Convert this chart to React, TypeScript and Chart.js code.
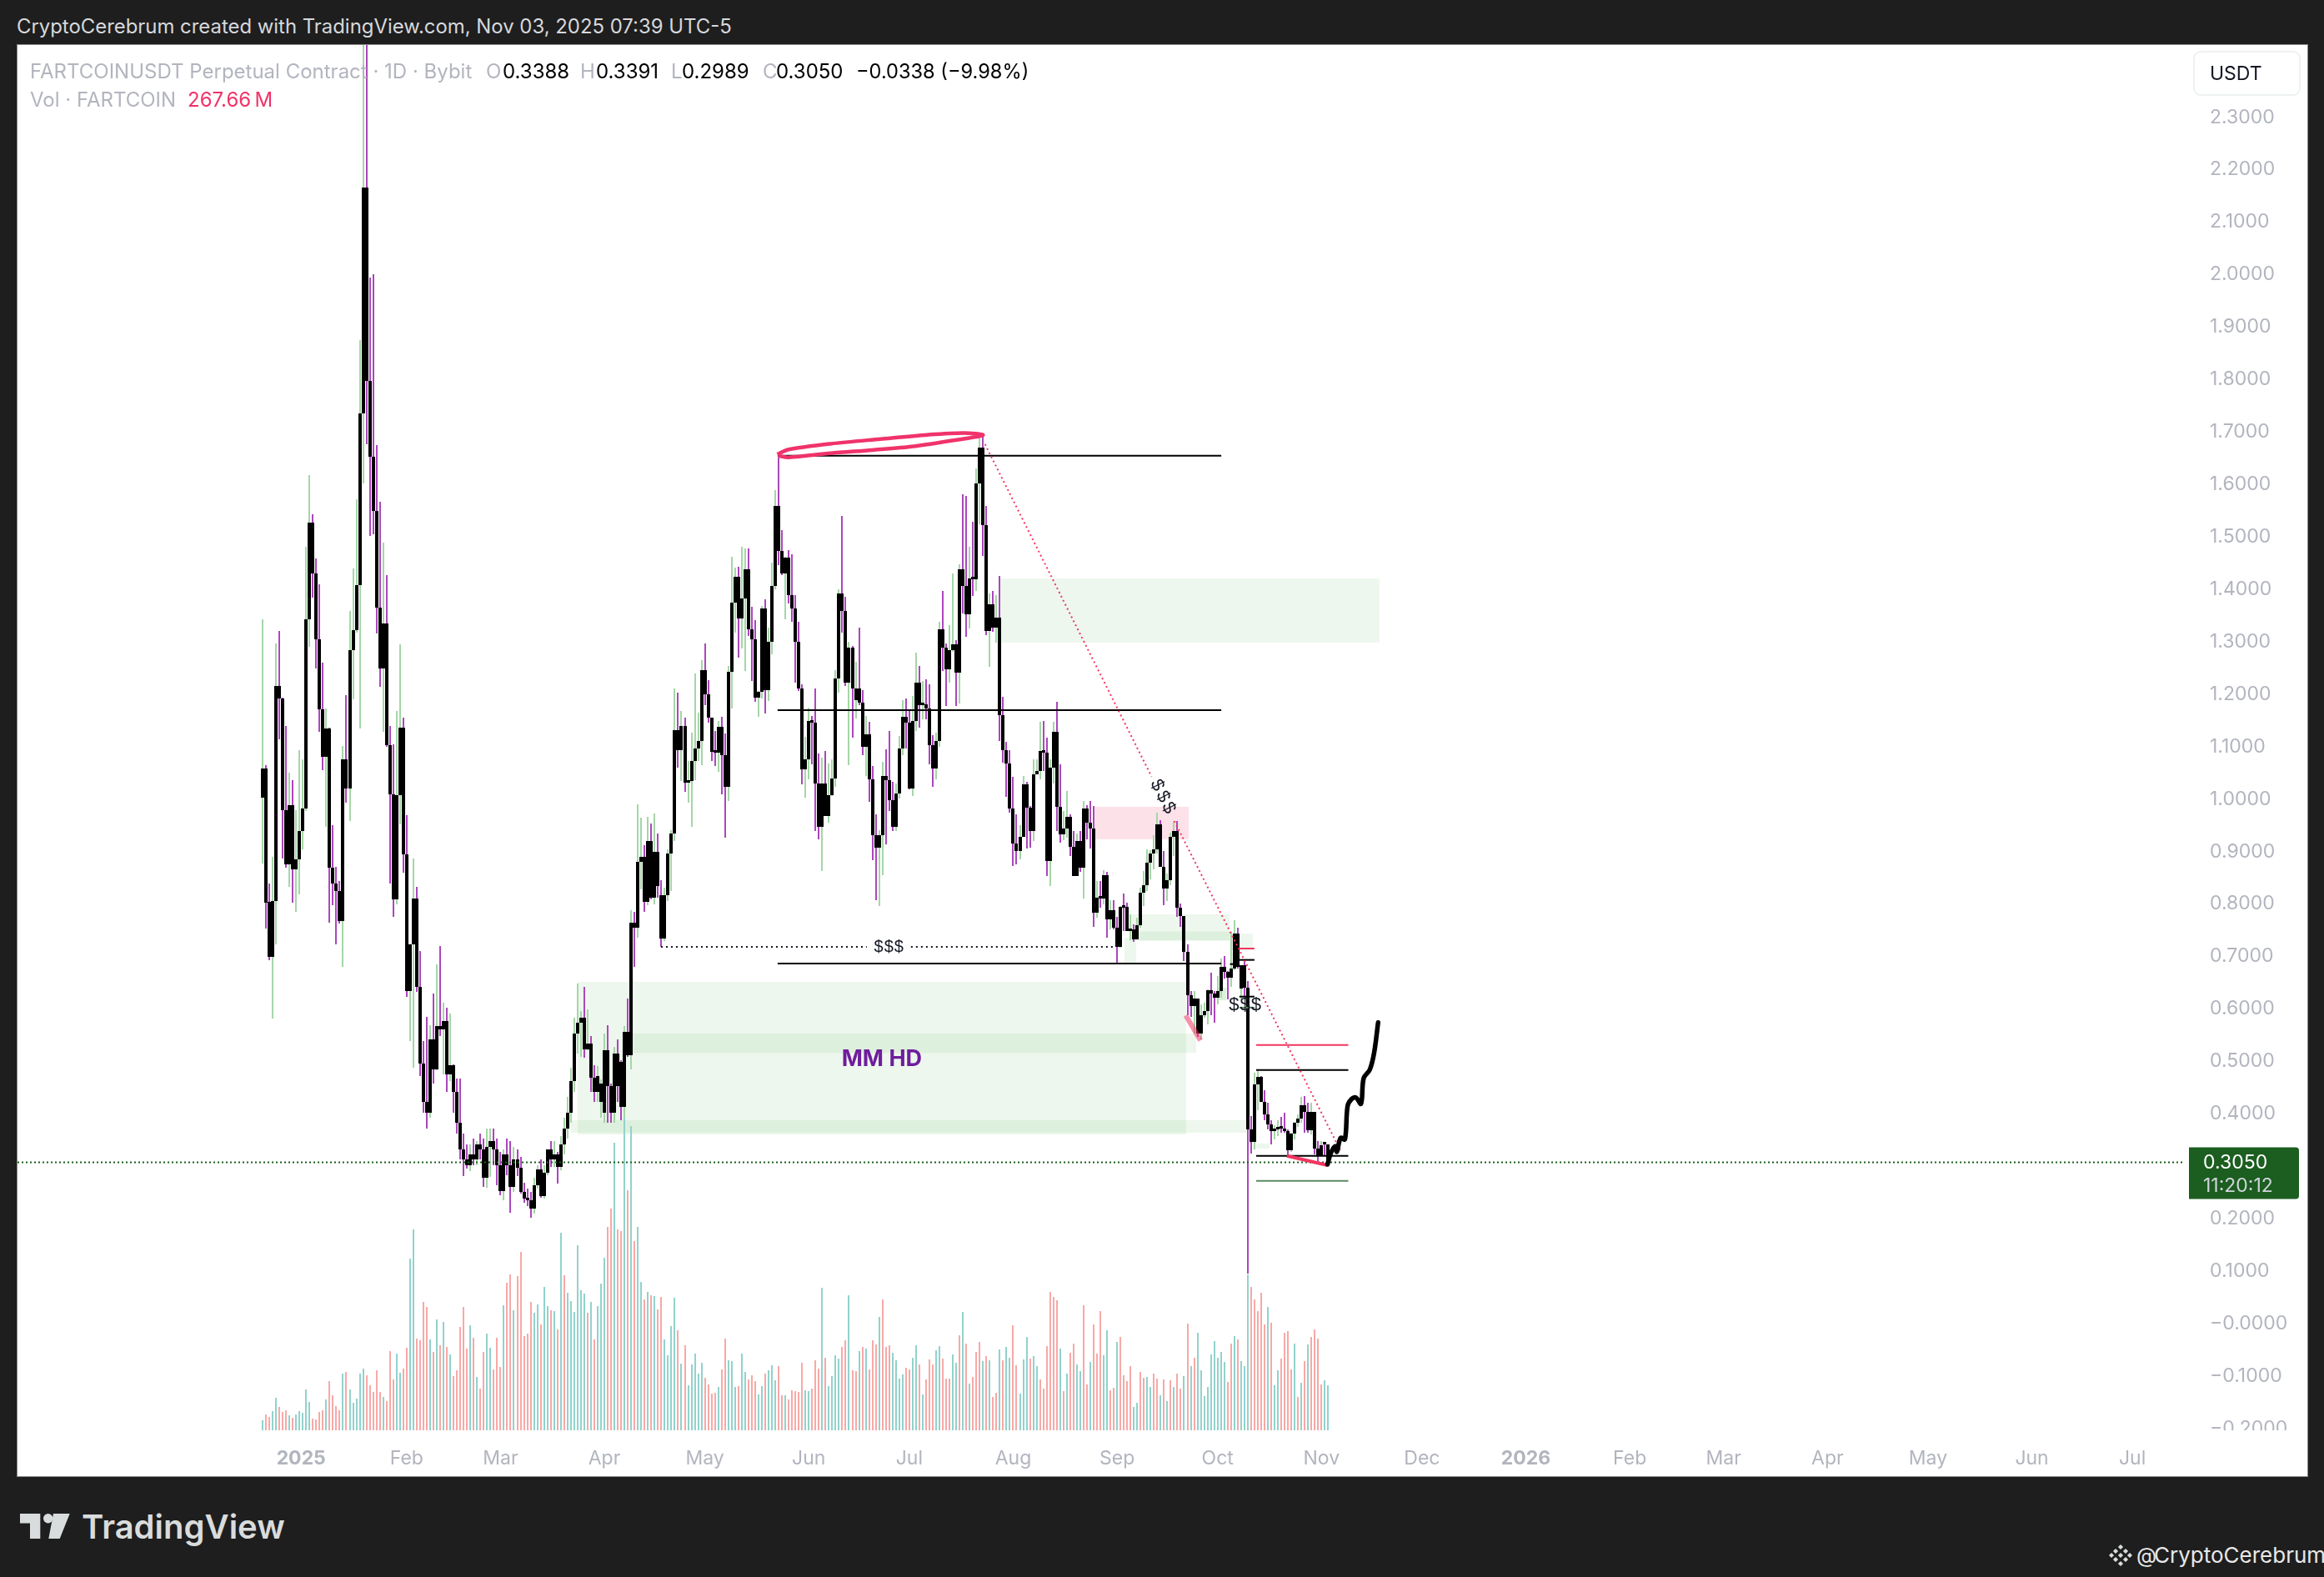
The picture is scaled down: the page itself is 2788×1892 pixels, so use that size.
import React, { useEffect, useRef } from "react";
import Chart from "chart.js/auto";

const opens = [
  0.9996,1.056,0.801,0.697,0.803,1.214,1.19,0.977,0.873,0.986,
  0.864,0.882,0.936,0.979,1.34,1.525,1.427,1.302,1.168,1.078,
  1.132,0.867,0.837,0.822,0.765,1.074,1.018,1.282,1.319,1.406,
  1.733,2.163,1.795,1.651,1.547,1.363,1.246,1.332,1.1,1.007,
  0.806,1.005,1.133,0.892,0.631,0.72,0.808,0.64,0.493,0.42,
  0.4,0.54,0.483,0.565,0.558,0.575,0.473,0.49,0.44,0.38,
  0.33,0.31,0.3,0.32,0.31,0.34,0.33,0.276,0.335,0.345,
  0.33,0.3,0.25,0.32,0.3,0.2577,0.31,0.295,0.2487,0.236,
  0.232,0.217,0.262,0.292,0.241,0.285,0.33,0.31,0.32,0.297,
  0.34,0.37,0.4,0.46,0.551,0.572,0.58,0.521,0.532,0.467,
  0.44,0.42,0.4,0.519,0.45,0.4,0.513,0.496,0.41,0.553,
  0.509,0.762,0.753,0.878,0.888,0.801,0.917,0.809,0.897,0.814,
  0.732,0.814,0.894,0.932,1.129,1.091,1.137,1.029,1.032,1.071,
  1.094,1.108,1.244,1.197,1.153,1.088,1.086,1.135,1.081,1.021,
  1.241,1.372,1.422,1.342,1.38,1.436,1.322,1.303,1.191,1.202,
  1.361,1.206,1.298,1.404,1.556,1.471,1.428,1.458,1.387,1.361,
  1.297,1.209,1.054,1.073,1.146,1.143,1.028,0.944,1.028,0.965,
  1.005,1.037,1.228,1.389,1.356,1.22,1.286,1.186,1.209,1.181,
  1.097,1.121,1.036,0.929,0.905,0.929,1.042,1.033,0.995,0.944,
  1.008,1.094,1.154,1.143,1.018,1.147,1.219,1.176,1.179,1.17,
  1.1,1.056,1.108,1.321,1.286,1.245,1.281,1.292,1.239,1.436,
  1.404,1.35,1.419,1.417,1.599,1.667,1.52,1.318,1.369,1.325,
  1.343,1.157,1.091,1.065,0.98,0.913,0.898,0.926,1.026,0.982,
  0.936,1.044,1.051,1.089,1.086,0.88,1.058,1.126,0.983,0.93,
  0.942,0.964,0.906,0.851,0.918,0.867,0.98,0.952,0.942,0.781,
  0.809,0.808,0.852,0.768,0.785,0.752,0.716,0.792,0.792,0.746,
  0.75,0.73,0.757,0.819,0.833,0.877,0.894,0.901,0.95,0.868,
  0.827,0.843,0.926,0.936,0.79,0.775,0.707,0.623,0.603,0.617,
  0.55,0.586,0.594,0.634,0.627,0.619,0.631,0.677,0.668,0.657,
  0.675,0.742,0.637,0.681,0.638,0.3675,0.344,0.453,0.468,0.42,
  0.396,0.378,0.364,0.368,0.373,0.37,0.364,0.328,0.36,0.381,
  0.388,0.414,0.402,0.367,0.401,0.331,0.317,0.3392,0.3388,
];
const closes = [
  1.056,0.8,0.697,0.803,1.214,1.19,0.977,0.873,0.986,0.864,
  0.882,0.936,0.979,1.34,1.525,1.427,1.302,1.168,1.078,1.132,
  0.867,0.837,0.822,0.765,1.074,1.018,1.282,1.319,1.406,1.733,
  2.163,1.795,1.651,1.547,1.363,1.246,1.332,1.1,1.007,0.806,
  1.005,1.133,0.892,0.631,0.72,0.808,0.64,0.493,0.42,0.4,
  0.54,0.483,0.565,0.558,0.575,0.473,0.49,0.44,0.38,0.33,
  0.31,0.3,0.32,0.31,0.34,0.33,0.276,0.335,0.345,0.33,
  0.3,0.25,0.32,0.3,0.2577,0.31,0.295,0.2487,0.236,0.232,
  0.217,0.262,0.292,0.241,0.285,0.33,0.31,0.32,0.297,0.34,
  0.37,0.4,0.46,0.551,0.572,0.58,0.521,0.532,0.467,0.44,
  0.47,0.455,0.519,0.45,0.4,0.513,0.45,0.41,0.553,0.509,
  0.762,0.753,0.878,0.888,0.801,0.917,0.809,0.897,0.832,0.732,
  0.814,0.894,0.932,1.129,1.091,1.137,1.029,1.032,1.071,1.094,
  1.108,1.244,1.197,1.153,1.087,1.086,1.135,1.081,1.021,1.241,
  1.372,1.422,1.342,1.38,1.436,1.322,1.303,1.191,1.202,1.361,
  1.206,1.298,1.404,1.556,1.471,1.428,1.458,1.387,1.361,1.297,
  1.209,1.054,1.073,1.146,1.143,1.028,0.944,1.028,0.965,1.005,
  1.037,1.228,1.389,1.356,1.22,1.286,1.209,1.209,1.181,1.097,
  1.121,1.036,0.929,0.905,0.929,1.042,1.033,0.995,0.944,1.008,
  1.094,1.154,1.143,1.018,1.147,1.219,1.176,1.179,1.17,1.1,
  1.056,1.108,1.321,1.286,1.245,1.281,1.292,1.239,1.436,1.404,
  1.35,1.419,1.417,1.599,1.667,1.52,1.318,1.369,1.325,1.343,
  1.157,1.091,1.065,0.98,0.913,0.898,0.926,1.026,0.982,0.936,
  1.044,1.051,1.089,1.086,0.88,1.058,1.126,0.983,0.93,0.942,
  0.964,0.906,0.851,0.918,0.867,0.98,0.952,0.942,0.781,0.809,
  0.808,0.852,0.768,0.785,0.752,0.716,0.792,0.791,0.746,0.75,
  0.73,0.757,0.819,0.833,0.877,0.894,0.901,0.95,0.868,0.827,
  0.843,0.926,0.936,0.79,0.774,0.707,0.623,0.603,0.617,0.55,
  0.586,0.594,0.634,0.627,0.619,0.631,0.677,0.668,0.657,0.675,
  0.742,0.677,0.681,0.638,0.3675,0.344,0.453,0.468,0.42,0.396,
  0.378,0.364,0.368,0.373,0.37,0.364,0.328,0.36,0.381,0.388,
  0.414,0.402,0.367,0.401,0.331,0.317,0.338,0.3388,0.305,
];
const highs = [
  1.34,1.063,0.836,0.887,1.294,1.318,1.191,1.137,1.048,1.033,
  0.977,1.091,1.074,1.478,1.615,1.54,1.456,1.407,1.257,1.17,
  1.134,0.948,0.869,0.842,1.099,1.195,1.356,1.437,1.569,1.873,
  2.7,2.7,1.992,1.998,1.673,1.564,1.487,1.425,1.137,1.102,
  1.165,1.292,1.153,0.967,0.722,0.885,0.831,0.708,0.537,0.583,
  0.567,0.627,0.683,0.718,0.61,0.6,0.589,0.491,0.465,0.465,
  0.36,0.34,0.34,0.35,0.345,0.36,0.35,0.37,0.37,0.37,
  0.35,0.325,0.33,0.35,0.345,0.335,0.33,0.315,0.2657,0.255,
  0.248,0.275,0.3,0.31,0.3,0.33,0.345,0.345,0.325,0.355,
  0.39,0.43,0.486,0.58,0.646,0.594,0.64,0.597,0.546,0.49,
  0.488,0.463,0.55,0.567,0.455,0.525,0.539,0.5,0.565,0.618,
  0.786,0.783,0.988,0.962,0.909,0.964,0.951,0.97,0.932,0.843,
  0.829,0.901,0.939,1.209,1.201,1.166,1.153,1.071,1.125,1.237,
  1.163,1.262,1.294,1.224,1.153,1.127,1.146,1.154,1.122,1.251,
  1.46,1.439,1.44,1.478,1.476,1.476,1.364,1.338,1.204,1.365,
  1.379,1.325,1.448,1.587,1.649,1.51,1.46,1.473,1.465,1.386,
  1.336,1.216,1.117,1.172,1.156,1.208,1.084,1.076,1.089,1.066,
  1.074,1.243,1.397,1.537,1.384,1.297,1.29,1.259,1.324,1.205,
  1.156,1.145,1.06,0.968,0.939,1.068,1.092,1.127,1.03,1.028,
  1.118,1.186,1.189,1.166,1.194,1.276,1.252,1.222,1.226,1.216,
  1.12,1.125,1.336,1.395,1.295,1.33,1.427,1.301,1.446,1.578,
  1.575,1.478,1.527,1.628,1.687,1.69,1.557,1.389,1.395,1.386,
  1.423,1.193,1.106,1.091,1.04,0.969,0.948,1.041,1.031,0.985,
  1.074,1.074,1.145,1.147,1.114,1.073,1.145,1.183,1.064,0.975,
  1.013,0.968,0.937,0.932,0.937,0.994,0.986,0.994,0.984,0.842,
  0.842,0.862,0.859,0.805,0.805,0.773,0.794,0.818,0.8,0.778,
  0.758,0.771,0.828,0.86,0.902,0.9,0.929,0.971,0.957,0.898,
  0.855,0.933,0.956,0.956,0.798,0.775,0.72,0.632,0.631,0.618,
  0.606,0.609,0.635,0.667,0.632,0.66,0.694,0.699,0.67,0.744,
  0.766,0.753,0.681,0.69,0.65,0.394,0.476,0.479,0.47,0.442,
  0.418,0.386,0.375,0.386,0.392,0.399,0.368,0.362,0.382,0.396,
  0.43,0.431,0.419,0.418,0.401,0.345,0.345,0.3391,0.3391,
];
const lows = [
  0.875,0.751,0.691,0.579,0.72,1.112,0.885,0.867,0.83,0.8,
  0.782,0.816,0.902,0.975,1.288,1.381,1.246,1.126,1.053,0.944,
  0.762,0.795,0.72,0.76,0.677,0.99,0.956,1.188,1.315,1.132,
  1.6,1.674,1.499,1.502,1.313,1.211,1.126,1.098,0.836,0.773,
  0.797,0.949,0.857,0.621,0.536,0.486,0.63,0.47,0.4,0.37,
  0.39,0.455,0.48,0.546,0.473,0.44,0.46,0.4,0.36,0.31,
  0.279,0.293,0.288,0.3,0.3,0.31,0.258,0.257,0.277,0.3,
  0.262,0.243,0.233,0.28,0.209,0.248,0.279,0.245,0.2286,0.222,
  0.1994,0.207,0.255,0.238,0.236,0.28,0.296,0.296,0.265,0.29,
  0.32,0.35,0.38,0.44,0.513,0.506,0.505,0.519,0.44,0.42,
  0.42,0.39,0.38,0.38,0.38,0.38,0.42,0.385,0.39,0.506,
  0.483,0.677,0.733,0.826,0.782,0.796,0.806,0.797,0.81,0.716,
  0.727,0.804,0.822,0.917,1.057,1.032,1.011,0.99,0.944,1.034,
  1.071,1.062,1.176,1.143,1.071,1.061,1.049,1.007,0.924,0.994,
  1.171,1.315,1.268,1.284,1.242,1.309,1.222,1.183,1.155,1.189,
  1.161,1.185,1.273,1.398,1.444,1.425,1.341,1.371,1.336,1.219,
  1.203,1.025,1.001,1.036,1.064,0.936,0.921,0.861,0.965,0.952,
  1.003,1.021,1.201,1.315,1.214,1.063,1.115,1.152,1.176,1.082,
  1.042,0.993,0.881,0.805,0.793,0.852,0.912,0.975,0.937,0.936,
  0.999,1.081,1.094,1.016,1.004,1.128,1.133,1.15,1.15,1.064,
  1.021,1.036,1.097,1.242,1.175,1.219,1.278,1.175,1.18,1.352,
  1.307,1.323,1.385,1.395,1.522,1.461,1.31,1.249,1.317,1.296,
  1.109,1.067,1.002,0.972,0.87,0.873,0.883,0.926,0.903,0.905,
  0.917,1.044,1.035,1.051,0.851,0.832,1.028,0.936,0.915,0.919,
  0.924,0.889,0.851,0.851,0.859,0.808,0.921,0.904,0.754,0.772,
  0.79,0.797,0.733,0.749,0.749,0.685,0.714,0.746,0.746,0.728,
  0.725,0.733,0.752,0.794,0.823,0.844,0.863,0.894,0.868,0.795,
  0.804,0.834,0.889,0.773,0.754,0.689,0.585,0.582,0.55,0.545,
  0.54,0.581,0.568,0.585,0.571,0.606,0.619,0.656,0.616,0.64,
  0.672,0.675,0.616,0.622,0.093,0.322,0.33,0.405,0.42,0.386,
  0.368,0.339,0.349,0.355,0.362,0.362,0.317,0.325,0.349,0.373,
  0.381,0.362,0.362,0.358,0.32,0.307,0.317,0.317,0.2989,
];
// Volume in millions of FARTCOIN
const volumes = [
  59,94,79,114,193,139,109,119,89,74,
  94,114,104,243,169,69,64,109,119,183,
  292,208,144,119,337,347,243,164,188,337,
  367,327,268,228,357,228,198,173,471,302,
  456,342,367,491,1021,1194,545,535,763,733,
  540,466,659,506,644,496,451,322,357,615,
  733,486,624,550,317,248,466,575,491,362,
  550,377,743,877,927,714,917,1061,560,575,
  763,699,748,629,852,738,714,709,600,1175,
  922,818,768,704,1100,833,813,699,763,540,
  738,872,1026,1209,1318,1710,1194,1185,1858,1427,
  1809,1125,1209,882,778,823,803,798,719,793,
  540,446,620,788,595,396,506,268,392,456,
  337,401,312,273,218,223,258,362,545,416,
  411,258,263,456,347,302,327,292,213,263,
  337,357,387,297,382,208,208,183,238,233,
  228,401,238,233,248,416,367,847,431,263,
  322,446,426,496,535,803,357,352,471,496,
  486,362,535,510,674,778,496,506,461,416,
  307,332,372,362,431,506,392,213,302,421,
  392,476,501,426,307,307,451,401,565,704,
  515,278,317,466,525,411,441,416,198,223,
  481,416,496,431,624,387,218,421,555,426,
  441,382,302,248,501,823,793,773,486,233,
  337,461,515,392,352,743,273,406,629,456,
  709,446,595,238,253,525,555,327,292,382,
  139,164,347,312,317,258,337,307,208,302,
  173,297,258,337,248,322,634,382,431,580,
  357,203,258,451,530,431,466,406,287,515,
  560,540,411,382,927,852,778,709,818,629,
  733,639,268,357,426,580,590,362,515,198,
  282,411,510,555,600,545,273,297,268,
];
const volumeDirs = [
  "trrttrrrtr","tttttrrrrt","rrrrtrtttt","trrrrrtrrr","ttrrttrrrr",
  "trtrtrtrrr","rrtrtrrttr","rrtrrtrrrr","rttrttrtrt","rttttttrtr",
  "tttrrtrrtr","trttrtrtrr","ttttrtrttt","ttrrrrtrrt","ttrttrrrtt",
  "rtttrrtrrr","rrttrrrtrt","tttrrtrrtr","trrrtrrrtt","ttrrttrtrr",
  "rttrrrttrt","rtrrrtrtrr","trttrrtttr","ttrrrrrrtr","trrttrrtrr",
  "rttrrtrrrr","ttrrttrrtr","trtrrtrtrt","ttttttttrr","trtttrrrrr",
  "trttrrrrtr","trtrrrrtt","r",
].join("");
const priceTicks = [-0.2,-0.1,0,0.1,0.2,0.3,0.4,0.5,0.6,0.7,0.8,0.9,1.0,1.1,1.2,1.3,1.4,1.5,1.6,1.7,1.8,1.9,2.0,2.1,2.2,2.3];
const monthLabels = ["2025","Feb","Mar","Apr","May","Jun","Jul","Aug","Sep","Oct","Nov","Dec","2026","Feb","Mar","Apr","May","Jun","Jul"];
const monthBars = [11.5,43,71,102,132,163,193,224,255,285,316,346,377,408,436,467,497,528,558];

// horizontal levels: bar index from / to, price
const levelFrom = [153.7,153.7,153.7,288.7,291.5,291.5,291.5,291.5,296.5,296.5,296.5,296.5];
const levelTo = [286.1,286.1,286.1,290.6,296,296,296,296,324,324,324,324];
const levelPrice = [1.652,1.167,0.684,0.683,0.7127,0.691,0.621,0.6,0.5288,0.4812,0.3175,0.2698];
const levelKinds = ["k","k","k","k","r","k","k","g","r","k","k","g"];

// shaded zones
const zoneFrom = [94,109.7,92,220.1,248.3,259.2,261.4,288.6,257.2,284.8,284.8,296.5];
const zoneTo = [275.6,278.6,293.5,333.3,276.4,288.6,288.6,295.5,260.7,287.6,287.6,300.5];
const zoneTop = [0.649,0.5505,0.3854,1.418,0.983,0.778,0.745,0.741,0.733,0.638,0.638,0.341];
const zoneBottom = [0.358,0.5137,0.3615,1.296,0.921,0.728,0.728,0.7095,0.685,0.614,0.614,0.3314];
const zoneKinds = ["g","g","g","g","p","g","g","g","g","g","g","g"];

const ellipseBars = [153.6,157,169.5,184.4,198.4,209.2,215,206.8,194.3,181.9,169.5,157,153.9];
const ellipsePrices = [1.655,1.664,1.675,1.684,1.692,1.6955,1.6916,1.682,1.67,1.663,1.657,1.649,1.652];
const forecastBars = [317.8,318.8,320.1,320.6,321.7,323,323.8,325,326.3,327.8,328.6,330.4,331.7,332.9];
const forecastPrices = [0.3013,0.3225,0.3358,0.3252,0.3517,0.349,0.4126,0.4259,0.4285,0.4168,0.4656,0.4815,0.5133,0.5716];
const trendBarsA = [215.6,265.3];
const trendPricesA = [1.674,1.0405];
const trendBarsB = [272.1,321.6];
const trendPricesB = [0.9556,0.3284];
const sweepBars = [275.5,279.9];
const sweepPrices = [0.5853,0.5374];
const dropBars = [305.7,317.8];
const dropPrices = [0.3175,0.2995];
const liqBarsA = [118.9,180.3];
const liqBarsB = [193.5,254.2];
const liqPrice = 0.7158;
const lastPrice = 0.305;
const lastLineEnd = 573.4;

const UI = "Inter, 'Liberation Sans', sans-serif";
const GREY = "#b2b5be";
const pts = (xs: number[], ys: number[]) => xs.map((x, i) => ({ x, y: ys[i] }));

const line = (data: any[], color: string, width: number, order: number, extra: any = {}) => ({
  type: "line", data, borderColor: color, borderWidth: width, pointRadius: 0, tension: 0,
  xAxisID: "x", yAxisID: "y", order, ...extra,
});

const overlay = {
  id: "overlay",
  afterDatasetsUpdate(chart: any) {
    chart.getSortedVisibleDatasetMetas().forEach((m: any) => {
      if (m.type !== "bar") return;
      m.data.forEach((el: any) => {
        el.x = Math.round(el.x);
        el.y = Math.round(el.y);
        el.base = Math.round(el.base);
      });
    });
  },
  beforeDraw(chart: any) {
    // nudge the price labels onto their reference baseline
    const yScale = chart.scales.y;
    if (yScale._nudged) return;
    yScale.getLabelItems(chart.chartArea).forEach((it: any) => { it.options.translation[1] += 1.5; });
    yScale._nudged = true;
  },
  beforeDatasetsDraw(chart: any) {
    const { ctx, scales: { x, y } } = chart;
    ctx.save();
    zoneFrom.forEach((f, i) => {
      ctx.fillStyle = zoneKinds[i] === "p" ? "rgba(242,54,100,0.15)" : "rgba(76,175,80,0.1)";
      const l = x.getPixelForValue(f), r = x.getPixelForValue(zoneTo[i]);
      const t = y.getPixelForValue(zoneTop[i]), b = y.getPixelForValue(zoneBottom[i]);
      ctx.fillRect(l, t, r - l, b - t);
    });
    ctx.restore();
  },
  afterDatasetsDraw(chart: any) {
    const { ctx, chartArea, width, height, scales: { x, y } } = chart;
    ctx.save();
    // price scale labels stop at the bottom of the pane
    ctx.fillStyle = "#ffffff";
    ctx.fillRect(chartArea.right, chartArea.bottom, width - chartArea.right, height - chartArea.bottom);

    // annotation text
    ctx.textAlign = "center";
    ctx.textBaseline = "middle";
    ctx.fillStyle = "#6f1d9d";
    ctx.font = `700 27px ${UI}`;
    ctx.fillText("MM HD", x.getPixelForValue(184.8), y.getPixelForValue(0.5015));
    ctx.fillStyle = "#131722";
    ctx.font = "20px 'Liberation Sans', sans-serif";
    (ctx as any).letterSpacing = "1px";
    ctx.fillText("$$$", x.getPixelForValue(187), y.getPixelForValue(liqPrice));
    ctx.font = "22px 'Liberation Sans', sans-serif";
    ctx.fillText("$$$", x.getPixelForValue(293.3), y.getPixelForValue(0.6055));
    ctx.save();
    ctx.translate(x.getPixelForValue(268.8), y.getPixelForValue(1.0));
    ctx.rotate((63 * Math.PI) / 180);
    ctx.font = "22px 'Liberation Sans', sans-serif";
    (ctx as any).letterSpacing = "3px";
    ctx.fillText("$$$", 0, 0);
    ctx.restore();
    (ctx as any).letterSpacing = "0px";

    // last price tag
    const py = y.getPixelForValue(lastPrice);
    ctx.fillStyle = "#1b5e20";
    ctx.beginPath();
    ctx.roundRect(chartArea.right, py - 18, 132, 62, [0, 4, 4, 0]);
    ctx.fill();
    ctx.textAlign = "left";
    ctx.font = `23px ${UI}`;
    ctx.fillStyle = "#ffffff";
    ctx.fillText("0.3050", chartArea.right + 17, py + 0.5);
    ctx.fillStyle = "#d1d4dc";
    ctx.fillText("11:20:12", chartArea.right + 17, py + 28.5);

    // currency button
    ctx.strokeStyle = "#e9efea";
    ctx.lineWidth = 1.5;
    ctx.fillStyle = "#ffffff";
    ctx.beginPath();
    ctx.roundRect(chartArea.right + 6, 8, 127, 52, 8);
    ctx.fill();
    ctx.stroke();
    ctx.fillStyle = "#131722";
    ctx.fillText("USDT", chartArea.right + 25, 35);
    ctx.restore();
  },
};

function Text({ x, y, size, color, weight, children, family }: any) {
  return (
    <span style={{ position: "absolute", left: x, top: y - size * 0.6, lineHeight: `${size * 1.2}px`, fontSize: size, color, fontWeight: weight ?? 400, fontFamily: family ?? UI, whiteSpace: "nowrap" }}>
      {children}
    </span>
  );
}

export default function App() {
  const ref = useRef<HTMLCanvasElement>(null);
  useEffect(() => {
    const idx = opens.map((_, i) => i);
    const isUp = (i: number) => closes[i] >= opens[i];
    const chart = new Chart(ref.current as any, {
      type: "bar",
      plugins: [overlay],
      data: {
        datasets: [
          {
            data: idx.map((i) => ({ x: i, y: volumes[i] })),
            backgroundColor: idx.map((i) => (volumeDirs[i] === "t" ? "#92d2cc" : "#f7a9a7")),
            barThickness: 2, grouped: false, yAxisID: "vol", xAxisID: "x", order: 30, inflateAmount: 0,
          },
          {
            data: idx.map((i) => ({ x: i, y: [lows[i], highs[i]] })),
            backgroundColor: idx.map((i) => (isUp(i) ? "#a5d6a7" : "#ab47bc")),
            barThickness: 2, grouped: false, yAxisID: "y", xAxisID: "x", order: 20, inflateAmount: 0,
          },
          {
            data: idx.map((i) => ({ x: i, y: [Math.min(opens[i], closes[i]), Math.max(opens[i], closes[i])] })),
            backgroundColor: "#000000",
            barThickness: 4, grouped: false, yAxisID: "y", xAxisID: "x", order: 10, minBarLength: 3, inflateAmount: 0,
          },
          line(pts([-73.13, lastLineEnd], [lastPrice, lastPrice]), "#1b5e20", 2, 9, { borderDash: [2, 3] }),
          ...levelFrom.map((f, i) =>
            line(pts([f, levelTo[i]], [levelPrice[i], levelPrice[i]]),
              levelKinds[i] === "k" ? "#000000" : levelKinds[i] === "r" ? "#f23560" : "#5c8a60", 2, 8)),
          line(pts(liqBarsA, [liqPrice, liqPrice]), "#131722", 2, 8, { borderDash: [2, 4] }),
          line(pts(liqBarsB, [liqPrice, liqPrice]), "#131722", 2, 8, { borderDash: [2, 4] }),
          line(pts(trendBarsA, trendPricesA), "#f23560", 2, 7, { borderDash: [2, 3.5] }),
          line(pts(trendBarsB, trendPricesB), "#f23560", 2, 7, { borderDash: [2, 3.5] }),
          line(pts(ellipseBars, ellipsePrices), "#f0336a", 4.5, 6, { tension: 0.3, borderJoinStyle: "round" }),
          line(pts(sweepBars, sweepPrices), "rgba(242,54,100,0.55)", 6, 6),
          line(pts(dropBars, dropPrices), "#f23560", 4, 6),
          line(pts(forecastBars, forecastPrices), "#000000", 5.5, 5, { tension: 0.35, borderCapStyle: "round", borderJoinStyle: "round" }),
        ] as any,
      },
      options: {
        responsive: false,
        maintainAspectRatio: false,
        devicePixelRatio: 1,
        animation: false,
        events: [],
        layout: { padding: 0 },
        plugins: { legend: { display: false }, tooltip: { enabled: false } },
        scales: {
          x: {
            type: "linear", position: "bottom", offset: false, min: -73.134, max: 574.88,
            grid: { display: false }, border: { display: false },
            afterBuildTicks: (s: any) => { s.ticks = monthBars.map((value) => ({ value })); },
            afterFit: (s: any) => { s.height = 55; s.paddingLeft = 0; s.paddingRight = 0; },
            ticks: {
              z: 1, autoSkip: false, maxRotation: 0, padding: 12, color: GREY,
              font: (c: any) => ({ family: UI, size: 23, weight: c.tick && (c.tick.value === 11.5 || c.tick.value === 377) ? "700" : "400" }),
              callback: (v: any) => monthLabels[monthBars.indexOf(v)] ?? "",
            },
          },
          y: {
            type: "linear", position: "right", min: -0.2058, max: 2.4352,
            grid: { display: false }, border: { display: false },
            afterBuildTicks: (s: any) => { s.ticks = priceTicks.map((value) => ({ value })); },
            afterFit: (s: any) => { s.width = 142; s.paddingTop = 0; s.paddingBottom = 0; },
            ticks: {
              autoSkip: false, crossAlign: "near", padding: 17, color: GREY, font: { family: UI, size: 23 },
              callback: (v: any) => (v <= 0 ? "\u2212" : "") + Math.abs(v).toFixed(4),
            },
          },
          vol: { type: "linear", display: false, min: 0, max: 8238 },
        },
      } as any,
    });
    return () => chart.destroy();
  }, []);

  return (
    <div style={{ position: "absolute", left: 0, top: 0, width: 2788, height: 1892, background: "#1e1e1e", overflow: "hidden" }}>
      <div style={{ position: "absolute", left: 20, top: 53, width: 2749, height: 1719, boxSizing: "border-box", border: "1px solid #8a8a8a" }} />
      <canvas ref={ref} width={2747} height={1717} style={{ position: "absolute", left: 21, top: 54, width: 2747, height: 1717, background: "#ffffff", display: "block" }} />

      <Text x={20} y={32} size={23.9} color="#d6d8dc">CryptoCerebrum created with TradingView.com, Nov 03, 2025 07:39 UTC-5</Text>

      <Text x={36} y={86} size={24} color={GREY}>FARTCOINUSDT Perpetual Contract · 1D · Bybit</Text>
      <Text x={583} y={86} size={24} color={GREY}>O</Text>
      <Text x={603} y={86} size={24} color="#000">0.3388</Text>
      <Text x={696} y={86} size={24} color={GREY}>H</Text>
      <Text x={715} y={86} size={24} color="#000">0.3391</Text>
      <Text x={805} y={86} size={24} color={GREY}>L</Text>
      <Text x={818} y={86} size={24} color="#000">0.2989</Text>
      <Text x={915} y={86} size={24} color={GREY}>C</Text>
      <Text x={931} y={86} size={24} color="#000">0.3050</Text>
      <Text x={1027} y={86} size={23.6} color="#000">{"\u22120.0338 (\u22129.98%)"}</Text>
      <Text x={36} y={120} size={24} color={GREY}>Vol · FARTCOIN</Text>
      <Text x={225} y={120} size={24} color="#f0336a">{"267.66\u2009M"}</Text>

      <svg style={{ position: "absolute", left: 0, top: 1800 }} width={100} height={60}>
        <g fill="#d9dcdc" transform="translate(0,-1800)">
          <path d="M24 1816H48.3V1846H36V1827.5H24Z" />
          <circle cx="57.7" cy="1821.7" r="5.7" />
          <path d="M64 1816H83.7L71.7 1846H58.3Z" />
        </g>
      </svg>
      <Text x={98} y={1832} size={40} weight={600} color="#d9dcdc">TradingView</Text>

      <svg style={{ position: "absolute", left: 2530, top: 1851 }} width={28} height={30}>
        <g fill="#d9dcdc" transform="translate(14,15)">
          {[[0, -10], [-6, -5], [6, -5], [0, 0], [-11, 0], [11, 0], [-6, 5], [6, 5], [0, 10]].map(([cx, cy], i) => (
            <rect key={i} x={cx - 2.2} y={cy - 2.2} width={4.4} height={4.4} transform={`rotate(45 ${cx} ${cy})`} />
          ))}
        </g>
      </svg>
      <Text x={2563} y={1866} size={25} color="#e8e8e8">@</Text>
      <Text x={2584} y={1866} size={26} color="#e8e8e8">CryptoCerebrum</Text>
    </div>
  );
}
